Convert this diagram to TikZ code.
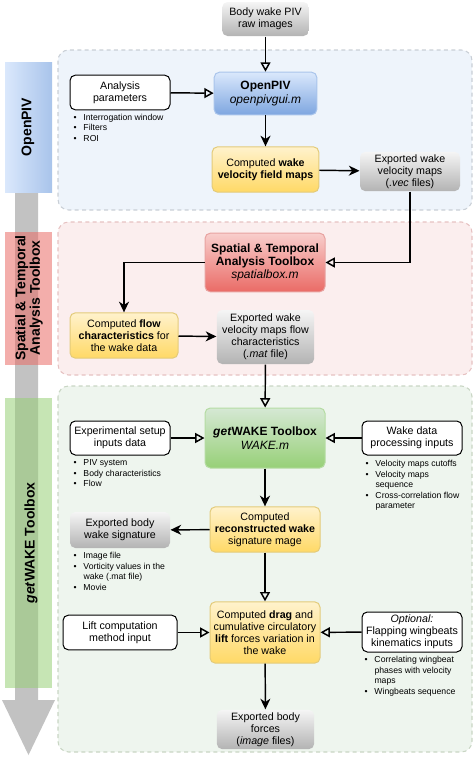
\documentclass[tikz,border=0pt]{standalone}
\usepackage{fontspec}
\setmainfont{Liberation Sans}
\usetikzlibrary{arrows.meta}

\definecolor{blueA}{HTML}{DAE8FC}
\definecolor{blueB}{HTML}{7EA6E0}
\definecolor{blueL}{HTML}{A9C4EB}
\definecolor{yelA}{HTML}{FFF2CC}
\definecolor{yelB}{HTML}{FFD966}
\definecolor{yelL}{HTML}{E3CB7A}
\definecolor{redA}{HTML}{F8CECC}
\definecolor{redB}{HTML}{EA6B66}
\definecolor{redL}{HTML}{E8A3A1}
\definecolor{grnA}{HTML}{D5E8D4}
\definecolor{grnB}{HTML}{97D077}
\definecolor{grnL}{HTML}{B5DCA3}
\definecolor{gryA}{HTML}{F5F5F5}
\definecolor{gryB}{HTML}{B3B3B3}
\definecolor{bandBlue}{HTML}{EEF4FB}
\definecolor{bandRed}{HTML}{FBEEEE}
\definecolor{bandGreen}{HTML}{EEF5EE}
\definecolor{lineBlue}{HTML}{C9CFD6}
\definecolor{lineRed}{HTML}{E6C2C2}
\definecolor{lineGreen}{HTML}{C9D6C4}
\definecolor{stemGray}{HTML}{C2C2C2}

\tikzset{every picture/.style={line width=0.75pt}}
\tikzset{
  basebox/.style={rounded corners=4pt, align=center, inner sep=2pt, font=\fontsize{8}{9}\selectfont},
  plainbox/.style={basebox, draw=black, fill=white},
  bluebox/.style={basebox, draw=blueL, top color=blueA, bottom color=blueB, font=\fontsize{9}{10}\selectfont},
  yelbox/.style={basebox, draw=yelL, top color=yelA, bottom color=yelB},
  redbox/.style={basebox, draw=redL, top color=redA, bottom color=redB, font=\fontsize{9}{10}\selectfont},
  grnbox/.style={basebox, draw=grnL, top color=grnA, bottom color=grnB, font=\fontsize{9}{10}\selectfont},
  grybox/.style={basebox, top color=gryA, bottom color=gryB},
  flowin/.style={-{Triangle[open,length=7pt,width=7.5pt]}, line width=1.1pt},
  flowout/.style={-{Stealth[length=8pt,width=7.5pt,inset=2.5pt]}, line width=1.1pt},
  notes/.style={anchor=north west, align=left, inner sep=0pt, font=\fontsize{6.5}{7.9}\selectfont},
  band/.style={dash pattern=on 3pt off 2.5pt, rounded corners=8pt, line width=0.8pt},
  barlabel/.style={rotate=90, align=center, font=\fontsize{10.5}{11}\selectfont\bfseries},
}
\newcommand{\bul}{\makebox[7.5pt][l]{\textbullet}}
\newcommand{\ind}{\hspace*{7.5pt}}

\begin{document}
\begin{tikzpicture}[x=0.75pt,y=0.75pt,yscale=-1,xscale=1]
	\useasboundingbox (0,0) rectangle (474,761);

	%Shape: Rounded Rect, OpenPIV band
	\draw [band, draw=lineBlue, fill=bandBlue] (58,50) rectangle (472,210);
	%Shape: Rounded Rect, spatial band
	\draw [band, draw=lineRed, fill=bandRed] (58,222) rectangle (472,375);
	%Shape: Rounded Rect, getWAKE band
	\draw [band, draw=lineGreen, fill=bandGreen] (58,386) rectangle (472,752);

	%Shape: Big arrow
	\fill [stemGray] (15,192) -- (38,192) -- (38,700) -- (55,700) -- (28.5,755) -- (2,700) -- (15,700) -- cycle;

	%Shape: Bars
	\fill [left color=blueA, right color=blueL] (5,62) rectangle (52,192);
	\fill [redB, opacity=0.55] (5,232) rectangle (52,365);
	\fill [grnB, opacity=0.55] (5,398) rectangle (52,688);

	% Text Node
	\node [barlabel] (barpiv) at (28,127) {OpenPIV};
	% Text Node
	\node [barlabel] (barspat) at (29,298) {Spatial \& Temporal\\Analysis Toolbox};
	% Text Node
	\node [barlabel] (barwake) at (31,543) {\textit{get}WAKE Toolbox};

	% OpenPIV part
	\node [grybox, minimum width=65pt, minimum height=25.5pt] (raw) at (265.5,19) {Body wake PIV\\raw images};
	\node [plainbox, minimum width=75pt, minimum height=26pt] (params) at (120,92.5) {Analysis\\parameters};
	\node [bluebox, minimum width=77pt, minimum height=32pt] (openpiv) at (265.5,93.5) {\textbf{OpenPIV}\\\textit{openpivgui.m}};
	\node [yelbox, minimum width=80pt, minimum height=34pt] (velfield) at (265.5,169.5) {Computed \textbf{wake}\\\textbf{velocity field maps}};
	\node [grybox, minimum width=75pt, minimum height=28pt] (vecfiles) at (410,171.5) {Exported wake\\velocity maps\\(\textit{.vec} files)};
	\node [notes] (paramnotes) at (73,113.5) {\bul Interrogation window\\\bul Filters\\\bul ROI};

	% Spatial part
	\node [redbox, minimum width=90pt, minimum height=44pt] (spatial) at (265,262.5) {\textbf{Spatial \& Temporal}\\\textbf{Analysis Toolbox}\\\textit{spatialbox.m}};
	\node [yelbox, minimum width=81pt, minimum height=34pt] (flowchar) at (124,335.5) {Computed \textbf{flow}\\\textbf{characteristics} for\\the wake data};
	\node [grybox, minimum width=73pt, minimum height=40.5pt] (matfile) at (265.5,337) {Exported wake\\velocity maps flow\\characteristics\\(\textit{.mat} file)};

	% getWAKE part
	\node [grnbox, minimum width=90pt, minimum height=45pt] (getwake) at (265,438) {\textbf{\textit{get}WAKE Toolbox}\\\textit{WAKE.m}};
	\node [plainbox, minimum width=75pt, minimum height=25.5pt] (setup) at (120,438) {Experimental setup\\inputs data};
	\node [plainbox, minimum width=75pt, minimum height=25.5pt] (procinp) at (412,438) {Wake data\\processing inputs};
	\node [notes] (setupnotes) at (73,459) {\bul PIV system\\\bul Body characteristics\\\bul Flow};
	\node [notes] (procnotes) at (365,460) {\bul Velocity maps cutoffs\\\bul Velocity maps\\\ind sequence\\\bul Cross-correlation flow\\\ind parameter};
	\node [yelbox, minimum width=82.5pt, minimum height=34pt] (recon) at (265,529.5) {Computed\\\textbf{reconstructed wake}\\signature mage};
	\node [grybox, minimum width=75pt, minimum height=27pt] (signature) at (120,530) {Exported body\\wake signature};
	\node [notes] (signotes) at (73,552) {\bul Image file\\\bul Vorticity values in the\\\ind wake (.mat file)\\\bul Movie};
	\node [yelbox, minimum width=82.5pt, minimum height=46pt] (drag) at (265,632.5) {Computed \textbf{drag} and\\cumulative circulatory\\\textbf{lift} forces variation in\\the wake};
	\node [plainbox, minimum width=85.5pt, minimum height=26pt] (liftinp) at (120,632.5) {Lift computation\\method input};
	\node [plainbox, minimum width=75pt, minimum height=30pt] (optional) at (412,632) {\textit{Optional:}\\Flapping wingbeats\\kinematics inputs};
	\node [notes] (optnotes) at (364,656) {\bul Correlating wingbeat\\\ind phases with velocity\\\ind maps\\\bul Wingbeats sequence};
	\node [grybox, minimum width=73pt, minimum height=28pt] (forces) at (265.5,729.5) {Exported body\\forces\\(\textit{image} files)};

	% Connectors
	\draw [flowin] (raw) -- (openpiv);
	\draw [flowin] (params) -- (openpiv);
	\draw [flowout] (openpiv) -- (velfield);
	\draw [flowout] (velfield) -- (vecfiles);
	\draw [flowin] (vecfiles.south) |- (spatial.east);
	\draw [flowout] (spatial.west) -| (flowchar.north);
	\draw [flowout] (flowchar) -- (matfile);
	\draw [flowin] (matfile) -- (getwake);
	\draw [flowin] (setup) -- (getwake);
	\draw [flowin] (procinp) -- (getwake);
	\draw [flowout] (getwake) -- (recon);
	\draw [flowout] (recon) -- (signature);
	\draw [flowin] (recon) -- (drag);
	\draw [flowin] (liftinp) -- (drag);
	\draw [flowin] (optional) -- (drag);
	\draw [flowout] (drag) -- (forces);

\end{tikzpicture}
\end{document}
